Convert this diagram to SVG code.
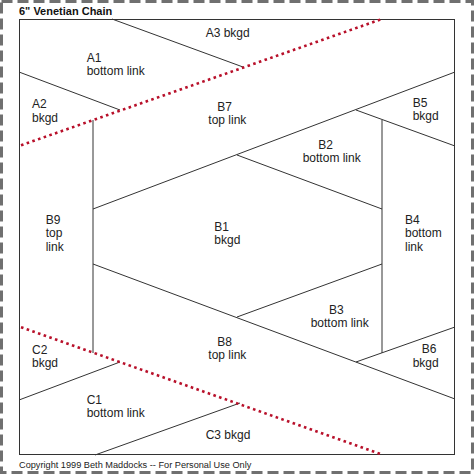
<svg xmlns="http://www.w3.org/2000/svg" width="474" height="474" viewBox="0 0 474 474">
<style>
.lbl{font-family:"Liberation Sans",Arial,sans-serif;font-size:12px;fill:#222}
.ttl{font-family:"Liberation Sans",Arial,sans-serif;font-size:11px;font-weight:bold;fill:#111}
.cpy{font-family:"Liberation Sans",Arial,sans-serif;font-size:9.2px;fill:#222}
.seam{stroke:#333;stroke-width:1;fill:none}
.cut{stroke:#b8102a;stroke-width:2.6;stroke-dasharray:2.6 3.4;fill:none}
</style>
<rect x="0" y="0" width="474" height="474" fill="#fff"/>
<rect x="1.5" y="1.5" width="471" height="471" fill="none" stroke="#707070" stroke-width="3" stroke-dasharray="11 5"/>
<text class="ttl" x="19" y="14.5">6" Venetian Chain</text>
<g id="connectors">
<rect class="seam" x="19.5" y="19.5" width="435" height="435"/>
<line class="seam" x1="112" y1="19" x2="243" y2="67"/>
<line class="seam" x1="19" y1="72" x2="120" y2="110"/>
<line class="seam" x1="93" y1="120" x2="93" y2="353"/>
<line class="seam" x1="382" y1="120" x2="382" y2="353"/>
<line class="seam" x1="455" y1="72" x2="93" y2="209"/>
<line class="seam" x1="356" y1="110" x2="455" y2="146"/>
<line class="seam" x1="237" y1="155" x2="382" y2="209"/>
<line class="seam" x1="93" y1="264" x2="455" y2="399"/>
<line class="seam" x1="237" y1="317" x2="382" y2="264"/>
<line class="seam" x1="356" y1="362" x2="455" y2="327"/>
<line class="seam" x1="19" y1="400" x2="120" y2="362"/>
<line class="seam" x1="95" y1="455" x2="240" y2="403"/>
<line class="cut" x1="21" y1="145.3" x2="382" y2="19"/>
<line class="cut" x1="21" y1="327.2" x2="382" y2="454.5"/>
</g>
<g id="A3"><text class="lbl" x="205.7" y="37.3">A3 bkgd</text></g>
<g id="A1"><text class="lbl" x="86.7" y="62.3">A1</text><text class="lbl" x="86.7" y="75.3">bottom link</text></g>
<g id="A2"><text class="lbl" x="32" y="108.3">A2</text><text class="lbl" x="32" y="121.5">bkgd</text></g>
<g id="B7"><text class="lbl" x="217.3" y="111">B7</text><text class="lbl" x="208.3" y="124">top link</text></g>
<g id="B5"><text class="lbl" x="412.7" y="106.7">B5</text><text class="lbl" x="412.7" y="120">bkgd</text></g>
<g id="B2"><text class="lbl" x="318.3" y="149">B2</text><text class="lbl" x="302.7" y="161.7">bottom link</text></g>
<g id="B9"><text class="lbl" x="45.7" y="224">B9</text><text class="lbl" x="45.7" y="237.3">top</text><text class="lbl" x="45.7" y="250.7">link</text></g>
<g id="B1"><text class="lbl" x="214.3" y="230.7">B1</text><text class="lbl" x="214.3" y="244.3">bkgd</text></g>
<g id="B4"><text class="lbl" x="405" y="224">B4</text><text class="lbl" x="405" y="237.3">bottom</text><text class="lbl" x="405" y="250.7">link</text></g>
<g id="B3"><text class="lbl" x="329" y="314">B3</text><text class="lbl" x="310.7" y="326.7">bottom link</text></g>
<g id="B8"><text class="lbl" x="217.3" y="345.7">B8</text><text class="lbl" x="208.3" y="359">top link</text></g>
<g id="B6"><text class="lbl" x="421.7" y="352.7">B6</text><text class="lbl" x="412.7" y="366.7">bkgd</text></g>
<g id="C2"><text class="lbl" x="32" y="354">C2</text><text class="lbl" x="32" y="367.3">bkgd</text></g>
<g id="C1"><text class="lbl" x="86.7" y="404">C1</text><text class="lbl" x="86.7" y="417.3">bottom link</text></g>
<g id="C3"><text class="lbl" x="205.7" y="439.3">C3 bkgd</text></g>
<text class="cpy" x="19" y="467.7">Copyright 1999 Beth Maddocks -- For Personal Use Only</text>
</svg>
